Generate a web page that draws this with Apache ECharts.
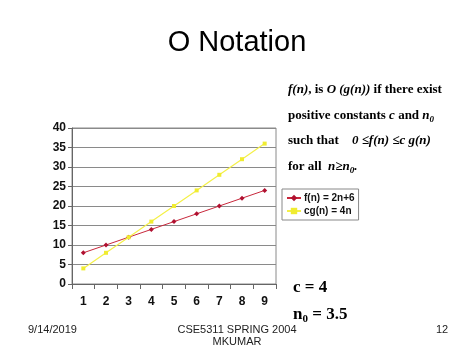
<!DOCTYPE html>
<html><head><meta charset="utf-8">
<script src="https://cdn.jsdelivr.net/npm/echarts@6/dist/echarts.min.js"></script>
<style>html,body{margin:0;padding:0;background:#fff}#c{width:474px;height:355px}</style>
</head><body><div id="c"></div>
<script>
var categories = ['1','2','3','4','5','6','7','8','9'];
var fValues = [8,10,12,14,16,18,20,22,24];
var cgValues = [4,8,12,16,20,24,28,32,36];
var seriesNames = ['f(n) = 2n+6', 'cg(n) = 4n'];

var chart = echarts.init(document.getElementById('c'));
var serif = '"Liberation Serif", "Times New Roman", serif';
var sans = '"Liberation Sans", Arial, Helvetica, sans-serif';
chart.setOption({
  backgroundColor: '#fff',
  animation: false,
  grid: {left: 72, right: 198, top: 128, bottom: 71, show: true, borderColor: '#8a8a8a', borderWidth: 1, backgroundColor: 'transparent'},
  legend: {
    orient: 'vertical', left: 282, top: 189,
    data: seriesNames,
    borderColor: '#888', borderWidth: 1, padding: [4, 4, 4, 4],
    itemGap: 3, itemWidth: 14, itemHeight: 8,
    textStyle: {fontFamily: sans, fontWeight: 'bold', fontSize: 10, color: '#111', padding: [0,0,0,-2]}
  },
  xAxis: {
    type: 'category', data: categories, boundaryGap: true,
    axisLine: {lineStyle: {color: '#666', width: 1}},
    axisTick: {show: true, interval: 0, length: 5, lineStyle: {color: '#666'}},
    axisLabel: {fontFamily: sans, fontWeight: 'bold', fontSize: 12, color: '#111', margin: 12}
  },
  yAxis: {
    type: 'value', min: 0, max: 40, interval: 5,
    axisLine: {show: true, lineStyle: {color: '#666', width: 1}},
    axisTick: {show: true, length: 4, lineStyle: {color: '#666'}},
    splitLine: {lineStyle: {color: '#8a8a8a', width: 1}},
    axisLabel: {fontFamily: sans, fontWeight: 'bold', fontSize: 12, color: '#111', margin: 6}
  },
  series: [
    {name: seriesNames[0], type: 'line', data: fValues, symbol: 'diamond', symbolSize: 5,
     lineStyle: {color: '#c8283c', width: 1}, itemStyle: {color: '#b01030'}},
    {name: seriesNames[1], type: 'line', data: cgValues, symbol: 'rect', symbolSize: 4,
     lineStyle: {color: '#f4f048', width: 1.2}, itemStyle: {color: '#f0ec30'}}
  ],
  graphic: [
    {type: 'text', left: 'center', top: 28, style: {text: 'O Notation', font: '29px ' + sans, fill: '#000'}},
    {type: 'text', left: 288, top: 77, style: {
      text: '{bi|f(n)}{b|, is }{bi|O (g(n))}{b| if there exist}\n{b|positive constants }{bi|c}{b| and }{bi|n}{sub|0}\n{b|such that    }{bi|0 ≤f(n) ≤c g(n)}\n{b|for all  }{bi|n≥n}{sub|0}{bi|.}',
      lineHeight: 25.5,
      rich: {
        b: {font: 'bold 13px ' + serif, fill: '#000', lineHeight: 25.5},
        bi: {font: 'italic bold 13px ' + serif, fill: '#000', lineHeight: 25.5},
        sub: {font: 'italic bold 9px ' + serif, fill: '#000', lineHeight: 25.5, padding: [8, 0, 0, 0]}
      }}},
    {type: 'text', left: 293, top: 279, style: {text: 'c = 4', font: 'bold 17px ' + serif, fill: '#000'}},
    {type: 'text', left: 293, top: 305, style: {
      text: '{a|n}{s|0}{a| = 3.5}',
      rich: {
        a: {font: 'bold 17px ' + serif, fill: '#000', lineHeight: 20},
        s: {font: 'bold 11px ' + serif, fill: '#000', lineHeight: 20, padding: [9, 0, 0, 0]}
      }}},
    {type: 'text', x: 28, y: 324, style: {text: '9/14/2019', font: '11px ' + sans, fill: '#222'}},
    {type: 'text', x: 237, y: 324, style: {text: 'CSE5311 SPRING 2004\nMKUMAR', font: '11px ' + sans, fill: '#222', align: 'center', lineHeight: 12}},
    {type: 'text', x: 436, y: 324, style: {text: '12', font: '11px ' + sans, fill: '#222'}}
  ]
});
</script></body></html>
